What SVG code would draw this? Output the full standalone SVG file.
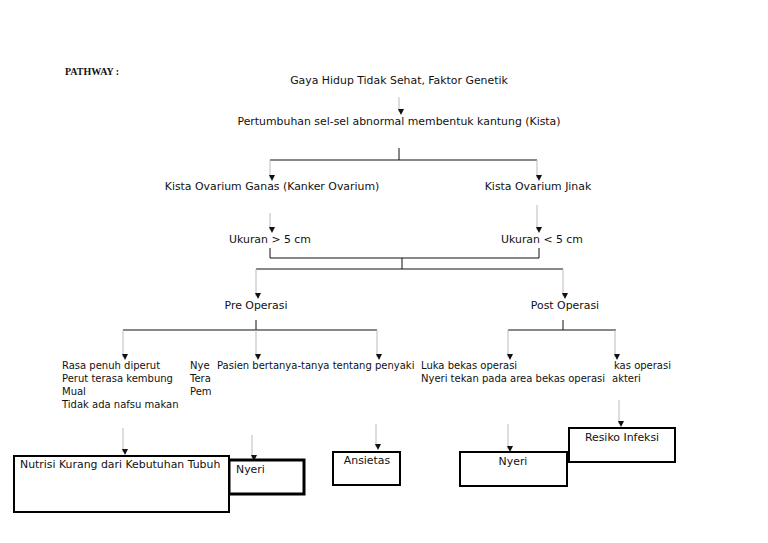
<svg xmlns="http://www.w3.org/2000/svg" width="768" height="543" viewBox="0 0 768 543">
<style>
text{font-family:"DejaVu Sans",sans-serif;font-size:10.9px;fill:#111}
.c{text-anchor:middle}
.ln{stroke:#111;stroke-width:1;fill:none}
.ar{stroke:#bbb;stroke-width:1;fill:none;marker-end:url(#a)}
.bx{fill:#fff;stroke:#000;stroke-width:2}
</style>
<defs><marker id="a" markerWidth="6" markerHeight="6" refX="3" refY="5" orient="auto-start-reverse" markerUnits="userSpaceOnUse" viewBox="0 0 6 6"><path d="M0,0 L6,0 L3,6 Z" fill="#111" transform="rotate(-90 3 3)"/></marker></defs>
<rect width="768" height="543" fill="#fff"/>
<text x="65" y="75" style="font-family:'Liberation Serif',serif;font-weight:bold;font-size:10px">PATHWAY :</text>
<g id="connectors">
<path class="ar" d="M399,97 V112"/>
<path class="ln" d="M399,148 V160 M270,160 H537"/>
<path class="ar" d="M270,160 V178"/><path class="ar" d="M537,160 V178"/>
<path class="ar" d="M270,213 V230"/><path class="ar" d="M537,205 V230"/>
<path class="ln" d="M270,248 V258 H539 V248 M402,258 V269 M256,269 H563"/>
<path class="ar" d="M256,269 V296"/><path class="ar" d="M563,269 V296"/>
<path class="ln" d="M256,320 V330 M123,330 H377 M563,320 V330 M508,330 H616"/>
<path class="ar" d="M123,330 V357"/><path class="ar" d="M256,330 V357"/><path class="ar" d="M377,330 V357"/>
<path class="ar" d="M508,330 V357"/><path class="ar" d="M615,330 V357"/>
<path class="ar" d="M123,428 V452"/><path class="ar" d="M252,435 V458"/><path class="ar" d="M376,424 V447"/>
<path class="ar" d="M508,424 V449"/><path class="ar" d="M619,400 V424"/>
</g>
<g id="n-top"><text class="c" x="399" y="84">Gaya Hidup Tidak Sehat, Faktor Genetik</text></g>
<g id="n-kista"><text class="c" x="399" y="125">Pertumbuhan sel-sel abnormal membentuk kantung (Kista)</text></g>
<g id="n-ganas"><text class="c" x="272" y="190">Kista Ovarium Ganas (Kanker Ovarium)</text></g>
<g id="n-jinak"><text class="c" x="538" y="190">Kista Ovarium Jinak</text></g>
<g id="n-uk1"><text class="c" x="270" y="243">Ukuran &gt; 5 cm</text></g>
<g id="n-uk2"><text class="c" x="542" y="243">Ukuran &lt; 5 cm</text></g>
<g id="n-pre"><text class="c" x="256" y="309">Pre Operasi</text></g>
<g id="n-post"><text class="c" x="565" y="309">Post Operasi</text></g>
<g id="n-s1" style="font-size:10px"><text x="62" y="369" style="font-size:10px">Rasa penuh diperut</text><text x="62" y="382" style="font-size:10px">Perut terasa kembung</text><text x="62" y="395" style="font-size:10px">Mual</text><text x="62" y="408" style="font-size:10px">Tidak ada nafsu makan</text></g>
<g id="n-s2"><text x="190" y="369" style="font-size:10px">Nye</text><text x="190" y="382" style="font-size:10px">Tera</text><text x="190" y="395" style="font-size:10px">Pem</text></g>
<g id="n-s3"><text x="217" y="369" style="font-size:10px">Pasien bertanya-tanya tentang penyaki</text></g>
<g id="n-s4"><text x="421" y="369" style="font-size:10px">Luka bekas operasi</text><text x="421" y="382" style="font-size:10px">Nyeri tekan pada area bekas operasi</text></g>
<g id="n-s5"><text x="614" y="369" style="font-size:10px">kas operasi</text><text x="612" y="382" style="font-size:10px">akteri</text></g>
<g id="b-nyeri1"><rect class="bx" x="229" y="460" width="75" height="34" style="stroke-width:3"/><text x="236" y="473">Nyeri</text></g>
<g id="b-nutrisi"><rect class="bx" x="14" y="456" width="215" height="56"/><text x="20" y="468">Nutrisi Kurang dari Kebutuhan Tubuh</text></g>
<g id="b-ansietas"><rect class="bx" x="333" y="452" width="67" height="33"/><text class="c" x="367" y="464">Ansietas</text></g>
<g id="b-nyeri2"><rect class="bx" x="460" y="452" width="107" height="34"/><text class="c" x="513" y="465">Nyeri</text></g>
<g id="b-resiko"><rect class="bx" x="569" y="428" width="106" height="34"/><text class="c" x="622" y="441">Resiko Infeksi</text></g>
</svg>
